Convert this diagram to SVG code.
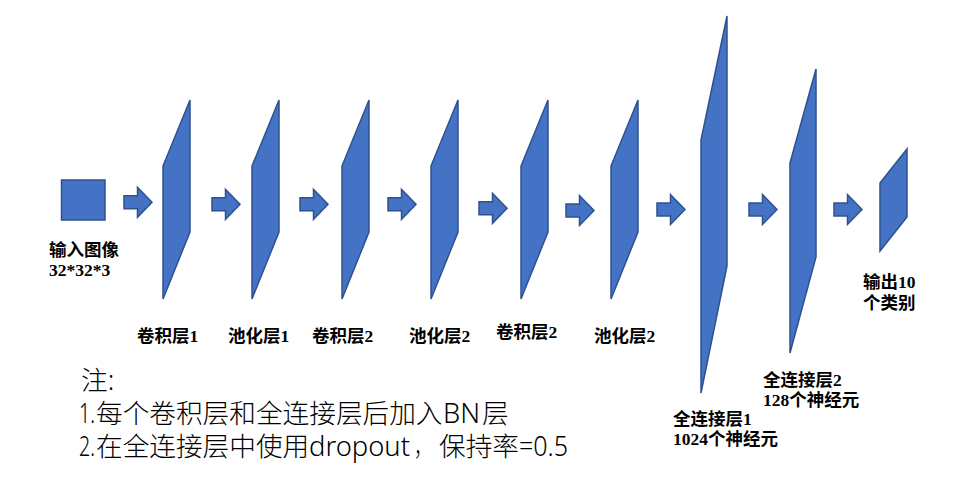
<svg xmlns="http://www.w3.org/2000/svg" width="973" height="496" viewBox="0 0 973 496">
<defs>
<style>
.shape{fill:#4472C4;stroke:#2F528F;stroke-width:1.5;stroke-linejoin:miter}
.lbl{font-family:"Liberation Serif","Noto Sans CJK SC",serif;font-size:17.5px;font-weight:bold;fill:#000}
.note{font-family:"Noto Sans","Noto Sans CJK SC",sans-serif;font-size:26.67px;font-weight:300;fill:#000}
</style>
<path id="arr" class="shape" d="M0,-6.5 H13.5 V-15 L28,0 L13.5,15 V6.5 H0 Z"/>
</defs>
<rect width="973" height="496" fill="#fff"/>
<g id="connectors">
<use href="#arr" x="124" y="202.3"/>
<use href="#arr" x="212" y="204.3"/>
<use href="#arr" x="300" y="204.3"/>
<use href="#arr" x="388" y="204.3"/>
<use href="#arr" x="479" y="208.3"/>
<use href="#arr" x="566" y="210.5"/>
<use href="#arr" x="657" y="209.5"/>
<use href="#arr" x="749" y="209.5"/>
<use href="#arr" x="834" y="209.5"/>
</g>
<g id="input">
<rect class="shape" x="61.5" y="180" width="43.5" height="40"/>
<text class="lbl" x="49" y="256">输入图像</text>
<text class="lbl" x="49" y="276">32*32*3</text>
</g>
<g id="conv1">
<polygon class="shape" points="163,166 190,100 190,232 163,299"/>
<text class="lbl" x="137" y="342">卷积层1</text>
</g>
<g id="pool1">
<polygon class="shape" points="252,166 279,100 279,232 252,299"/>
<text class="lbl" x="228" y="342">池化层1</text>
</g>
<g id="conv2">
<polygon class="shape" points="342,166 369,100 369,232 342,299"/>
<text class="lbl" x="312" y="342">卷积层2</text>
</g>
<g id="pool2">
<polygon class="shape" points="431,166 458,100 458,232 431,299"/>
<text class="lbl" x="409" y="342">池化层2</text>
</g>
<g id="conv3">
<polygon class="shape" points="521,166 548,100 548,232 521,299"/>
<text class="lbl" x="496" y="338">卷积层2</text>
</g>
<g id="pool3">
<polygon class="shape" points="611,166 638,100 638,232 611,299"/>
<text class="lbl" x="594" y="342">池化层2</text>
</g>
<g id="fc1">
<polygon class="shape" points="701,140 727,16 727,266 701,393"/>
<text class="lbl" x="673" y="425">全连接层1</text>
<text class="lbl" x="673" y="445">1024个神经元</text>
</g>
<g id="fc2">
<polygon class="shape" points="790,163 816,69 816,257 790,353"/>
<text class="lbl" x="763" y="386">全连接层2</text>
<text class="lbl" x="763" y="406">128个神经元</text>
</g>
<g id="output">
<polygon class="shape" points="880,183 907,149 907,217 880,251"/>
<text class="lbl" x="863" y="288">输出10</text>
<text class="lbl" x="863" y="309">个类别</text>
</g>
<g id="notes">
<text class="note" x="81" y="390">注:</text>
<text class="note" y="423"><tspan x="79" textLength="16" lengthAdjust="spacingAndGlyphs">1.</tspan><tspan x="96">每个卷积层和全连接层后加入</tspan><tspan x="443" textLength="37" lengthAdjust="spacingAndGlyphs">BN</tspan><tspan x="482">层</tspan></text>
<text class="note" y="456"><tspan x="79" textLength="16" lengthAdjust="spacingAndGlyphs">2.</tspan><tspan x="96">在全连接层中使用</tspan><tspan x="309" textLength="101" lengthAdjust="spacingAndGlyphs">dropout</tspan><tspan x="414" textLength="18" lengthAdjust="spacingAndGlyphs">，</tspan><tspan x="439">保持率</tspan><tspan x="519" textLength="49" lengthAdjust="spacingAndGlyphs">=0.5</tspan></text>
</g>
</svg>
